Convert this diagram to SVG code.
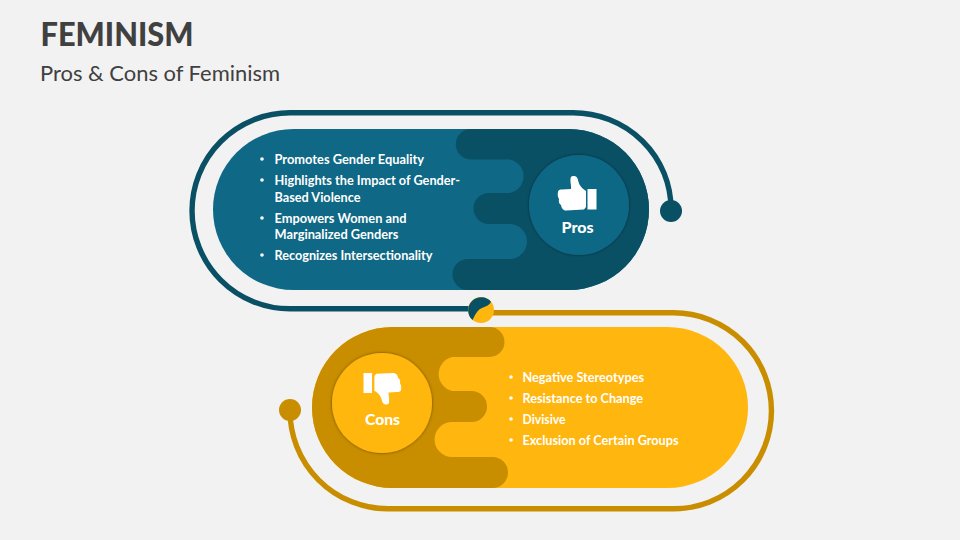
<svg xmlns="http://www.w3.org/2000/svg" width="960" height="540" viewBox="0 0 960 540">
<style>
text{font-family:"Lato","Open Sans","Liberation Sans",sans-serif}
.t{font-size:12.800px;font-weight:700;fill:#fff}
.h{font-size:15.500px;font-weight:900;fill:#fff}
.l{fill:none;stroke-width:5.400}
.b{fill:#fff}
</style>
<defs>
<filter id="s" x="-20%" y="-20%" width="140%" height="140%"><feDropShadow dx="0" dy="0" stdDeviation="1.600" flood-color="#000" flood-opacity=".5"/></filter>
<path id="hand" d="M573 176C575.500 175.500 577.500 177 578 180C579 184 580 187 586 191V207L584 209.500L566 210.500C563 210.500 561.500 208 561 205C559 204 558.500 201 559 199C557.500 197 557.500 194 558 192C558 190 560 189.500 562 189.500L571 189C571.500 186 570 182 570.500 179C570.500 177 571.500 176 573 176Z"/>
</defs>
<rect width="960" height="540" fill="#f2f2f2"/>
<text x="40.500" y="46" font-size="32.500" font-weight="900" fill="#404040" textLength="153" lengthAdjust="spacingAndGlyphs">FEMINISM</text>
<text x="40" y="80.500" font-size="20.500" fill="#404040" textLength="240" lengthAdjust="spacingAndGlyphs">Pros &amp; Cons of Feminism</text>
<g id="connectors">
<path class="l" stroke="#0a5065" d="M671 211V209A98 96 0 0 0 573 112.800H290A98 98 0 0 0 290 308.800H481"/>
<circle cx="671" cy="211" r="11" fill="#0a5065"/>
<path class="l" stroke="#c98d00" d="M290 410A98 98 0 0 0 388 508.800H673.500A98 98 0 0 0 673.500 312.800H481"/>
<circle cx="290" cy="410" r="11" fill="#c98d00"/>
</g>
<g id="junction">
<circle cx="481" cy="310" r="13" fill="#ffb60f"/>
<path d="M472.500 320A13 13 0 1 1 491 301.800C489 306 485 306.500 481 308.500C477 310.500 475 315 472.500 320Z" fill="#0a5065"/>
</g>
<g id="pros">
<rect x="213" y="129" width="436" height="161" rx="80.500" fill="#0f6885"/>
<path d="M471 129H568.500A80.500 80.500 0 0 1 568.500 290H468A15.500 15.500 0 0 1 468 259H509.500A17.500 17.500 0 0 0 509.500 224H489A15.500 15.500 0 0 1 489 193H509.500A17 17 0 0 0 509.500 159.500H471A15.250 15.250 0 0 1 471 129Z" fill="#0a5065"/>
<circle cx="579" cy="205" r="50" fill="#0f6885" filter="url(#s)"/>
<rect class="b" x="587.500" y="189" width="9" height="20.500"/>
<use href="#hand" class="b"/>
<text class="h" x="561.500" y="232.500" textLength="32" lengthAdjust="spacingAndGlyphs">Pros</text>
<circle class="b" cx="262" cy="159" r="1.800"/>
<text class="t" x="274.500" y="164" textLength="149.500" lengthAdjust="spacingAndGlyphs">Promotes Gender Equality</text>
<circle class="b" cx="262" cy="180" r="1.800"/>
<text class="t" x="274.500" y="185" textLength="185.500" lengthAdjust="spacingAndGlyphs">Highlights the Impact of Gender-</text>
<text class="t" x="274.500" y="202" textLength="86" lengthAdjust="spacingAndGlyphs">Based Violence</text>
<circle class="b" cx="262" cy="218" r="1.800"/>
<text class="t" x="274.500" y="223" textLength="132" lengthAdjust="spacingAndGlyphs">Empowers Women and</text>
<text class="t" x="274.500" y="239" textLength="124" lengthAdjust="spacingAndGlyphs">Marginalized Genders</text>
<circle class="b" cx="262" cy="255" r="1.800"/>
<text class="t" x="274.500" y="260" textLength="158" lengthAdjust="spacingAndGlyphs">Recognizes Intersectionality</text>
</g>
<g id="cons">
<rect x="312" y="327" width="436" height="161" rx="80.500" fill="#ffb60f"/>
<path d="M489.500 327H392.500A80.500 80.500 0 0 0 392.500 488H492.500A15.500 15.500 0 0 0 492.500 457H452A17.500 17.500 0 0 1 452 422H471.500A15.500 15.500 0 0 0 471.500 391H452A17.500 17.500 0 0 1 452 357H489.500A15 15 0 0 0 489.500 327Z" fill="#c98d00"/>
<circle cx="382" cy="403" r="50" fill="#ffb60f" filter="url(#s)"/>
<rect class="b" x="363.500" y="373" width="8.500" height="20"/>
<use href="#hand" class="b" transform="matrix(-.95 0 0 -.915 931.100 565.500)"/>
<text class="h" x="365" y="424.500" textLength="35" lengthAdjust="spacingAndGlyphs">Cons</text>
<circle class="b" cx="511" cy="377" r="1.800"/>
<text class="t" x="522.500" y="382" textLength="121.500" lengthAdjust="spacingAndGlyphs">Negative Stereotypes</text>
<circle class="b" cx="511" cy="398" r="1.800"/>
<text class="t" x="522.500" y="403" textLength="120.500" lengthAdjust="spacingAndGlyphs">Resistance to Change</text>
<circle class="b" cx="511" cy="419" r="1.800"/>
<text class="t" x="522.500" y="424" textLength="43" lengthAdjust="spacingAndGlyphs">Divisive</text>
<circle class="b" cx="511" cy="440" r="1.800"/>
<text class="t" x="522.500" y="445" textLength="156" lengthAdjust="spacingAndGlyphs">Exclusion of Certain Groups</text>
</g>
</svg>
